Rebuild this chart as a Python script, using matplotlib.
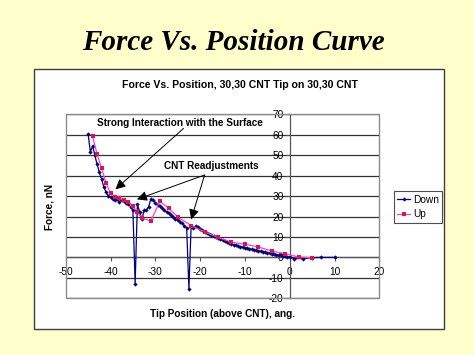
import matplotlib
matplotlib.use("Agg")
import matplotlib.pyplot as plt
from matplotlib.patches import Rectangle
from matplotlib.lines import Line2D

plt.rcParams['font.family'] = ['Liberation Sans', 'DejaVu Sans']
plt.rcParams['axes.unicode_minus'] = False

# ---- data ----
down_x = [-45, -44.5, -44, -43.5, -43, -42.5, -42, -41.5, -41, -40.5,
          -40, -39.5, -39, -38.5, -38, -37.5, -37, -36.5, -36, -35.5,
          -35, -34.5, -34, -33.5, -33, -32.5, -32, -31.5, -31, -30.5,
          -30, -29.5, -29, -28.5, -28, -27.5, -27, -26.5, -26, -25.5,
          -25, -24.5, -24, -23.5, -23, -22.5, -22, -21.5, -21, -20.5,
          -20, -19.5, -19, -18.5, -18, -17.5, -17, -16.5, -16, -15.5,
          -15, -14.5, -14, -13.5, -13, -12.5, -12, -11.5, -11, -10.5,
          -10, -9.5, -9, -8.5, -8, -7.5, -7, -6.5, -6, -5.5,
          -5, -4.5, -4, -3.5, -3, -2.5, -2, -1.5, -1, -0.5,
          0, 1, 3, 5, 7, 10]
down_y = [60.5, 51.5, 54.5, 50.0, 45.5, 41.8, 38.2, 34.6, 31.8, 30.2,
          29.4, 28.4, 27.9, 28.4, 27.2, 28.0, 27.4, 26.8, 25.9, 24.8,
          23.0, -12.9, 26.0, 22.3, 18.6, 23.0, 23.0, 24.8, 28.4, 28.0,
          26.8, 25.8, 25.0, 24.0, 23.2, 22.3, 21.5, 20.6, 19.8, 19.0,
          18.2, 17.4, 16.6, 15.6, 14.5, -15.5, 15.6, 14.6, 15.3, 14.8,
          14.0, 13.2, 12.4, 11.9, 11.3, 10.8, 10.3, 9.8, 9.4, 8.8,
          8.3, 7.8, 7.4, 7.0, 6.6, 6.2, 5.9, 5.6, 5.3, 5.0,
          4.8, 4.5, 4.2, 3.9, 3.7, 3.4, 3.2, 3.0, 2.7, 2.5,
          2.3, 2.1, 1.9, 1.6, 1.4, 1.2, 1.0, 0.8, 0.6, 0.4,
          0.2, -0.6, -0.6, -0.1, 0.0, 0.0]

up_x = [-44, -43, -42, -41, -40, -39, -38, -37, -36, -35, -34, -33,
        -31, -29, -27, -25, -22, -19, -16, -13, -10, -7, -4, -1, 2, 5]
up_y = [59.2, 50.5, 43.6, 36.5, 31.3, 29.7, 28.9, 28.2, 27.2, 25.3, 22.0, 19.3,
        17.8, 27.4, 24.0, 19.8, 15.6, 12.5, 9.8, 7.4, 6.5, 5.1, 3.1, 1.8, 0.2, -0.2]

x_ticks = [-50, -40, -30, -20, -10, 0, 10, 20]
y_ticks = [-20, -10, 0, 10, 20, 30, 40, 50, 60, 70]

page_title = "Force Vs. Position Curve"
chart_title = "Force Vs. Position, 30,30 CNT Tip on 30,30 CNT"
x_label = "Tip Position (above CNT), ang."
y_label = "Force, nN"
ann1_text = "Strong Interaction with the Surface"
ann2_text = "CNT Readjustments"
series_names = ['Down', 'Up']

# ---- figure ----
W, H = 474, 355
fig = plt.figure(figsize=(W / 100, H / 100), dpi=100, facecolor='#FFFFCC')

def fx(px):
    return px / W

def fy(py):
    return 1 - py / H

# chart box
fig.patches.append(Rectangle((fx(34), fy(329)), fx(444) - fx(34), fy(69) - fy(329),
                             transform=fig.transFigure, facecolor='white',
                             edgecolor='#404040', linewidth=1.0, zorder=-5))

fig.text(fx(233), fy(42), page_title, family=['Liberation Serif', 'DejaVu Serif'],
         fontsize=21, fontweight='bold', fontstyle='italic', ha='center', va='center')

fig.text(fx(239.5), fy(85), chart_title, fontsize=7.6, fontweight='bold',
         ha='center', va='center')

ax = fig.add_axes([fx(65.7), fy(298.3), fx(379.3) - fx(65.7), fy(114.3) - fy(298.3)])
ax.set_facecolor('white')
ax.set_xlim(-50, 20)
ax.set_ylim(-20, 70)

for s in ['top', 'right']:
    ax.spines[s].set_visible(False)
ax.spines['left'].set_position(('data', 0))
ax.spines['bottom'].set_position(('data', 0))
ax.spines['left'].set_color('#555555')
ax.spines['bottom'].set_color('#555555')
ax.spines['left'].set_linewidth(0.9)
ax.spines['bottom'].set_linewidth(0.9)
ax.add_patch(Rectangle((0, 0), 1, 1, transform=ax.transAxes, fill=False,
                       edgecolor='#8a8a8a', linewidth=1.0, clip_on=False, zorder=3))

ax.set_xticks(x_ticks)
ax.set_yticks(y_ticks)
ax.tick_params(axis='both', labelsize=7.3, length=3, width=0.8, color='#555555', pad=1.5)
ax.tick_params(axis='x', direction='out', pad=4)
ax.tick_params(axis='y', direction='out')
ax.yaxis.grid(True, color='#333333', linewidth=0.9)
ax.xaxis.grid(False)
ax.set_axisbelow(True)

ax.plot(down_x, down_y, color='#000080', linewidth=0.9, marker='D', markersize=2.2,
        markerfacecolor='#000080', markeredgewidth=0, zorder=4, label=series_names[0])
ax.plot(up_x, up_y, color='#FF40C8', linewidth=0.9, marker='s', markersize=2.4,
        markerfacecolor='#E8104A', markeredgewidth=0, zorder=5, label=series_names[1])

fig.text(fx(222), fy(314), x_label, fontsize=7.2, fontweight='bold', ha='center', va='center')
fig.text(fx(49), fy(207), y_label, fontsize=7.2, fontweight='bold', ha='center', va='center',
         rotation=90)

# annotations
ax.text(-24.6, 65.6, ann1_text, fontsize=7.2, fontweight='bold', ha='center', va='center', zorder=6)
arrow = dict(arrowstyle='-|>,head_length=0.6,head_width=0.3', color='black', lw=0.7,
             shrinkA=0, shrinkB=0)
ax.annotate('', xy=(-38.9, 33.3), xytext=(-23.7, 63.1), arrowprops=arrow, zorder=6)
ax.text(-17.5, 44.5, ann2_text, fontsize=7.2, fontweight='bold', ha='center', va='center', zorder=6)
ax.annotate('', xy=(-34.1, 28.4), xytext=(-19.0, 40.3), arrowprops=arrow, zorder=6)
ax.annotate('', xy=(-22.0, 18.6), xytext=(-19.0, 40.3), arrowprops=arrow, zorder=6)

handles = [Line2D([], [], color='#000080', lw=0.9, marker='D', markersize=2.2,
                  markeredgewidth=0),
           Line2D([], [], color='#FF40C8', lw=0.9, marker='s', markersize=2.4,
                  markerfacecolor='#E8104A', markeredgewidth=0)]
leg = fig.legend(handles, series_names, loc='upper left',
                 bbox_to_anchor=(fx(393.5), fy(191)), borderaxespad=0,
                 fontsize=7.3, frameon=True, fancybox=False, handlelength=1.3,
                 handletextpad=0.25, borderpad=0.35, labelspacing=0.45)
leg.get_frame().set_edgecolor('#222222')
leg.get_frame().set_linewidth(0.8)

fig.savefig('out.png', dpi=100, facecolor=fig.get_facecolor())
